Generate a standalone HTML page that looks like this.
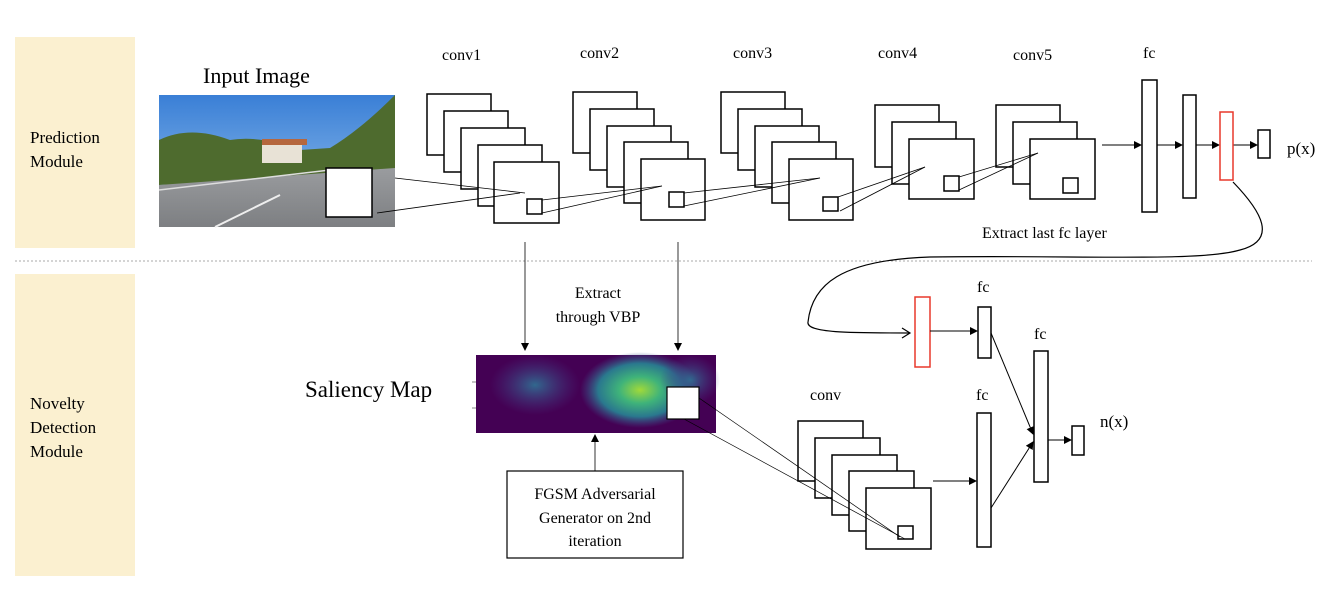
<!DOCTYPE html>
<html><head><meta charset="utf-8"><style>
html,body{margin:0;padding:0;background:#fff;}
svg{display:block;font-family:"Liberation Serif",serif;}
</style></head><body>
<svg width="1340" height="600" viewBox="0 0 1340 600" xmlns="http://www.w3.org/2000/svg">
<defs>
<marker id="ah" markerWidth="8" markerHeight="8" refX="7" refY="4" orient="auto" markerUnits="userSpaceOnUse">
<path d="M0,0 L8,4 L0,8 Z" fill="#000"/></marker>
<linearGradient id="sky" x1="0" y1="0" x2="0" y2="1">
<stop offset="0" stop-color="#3a7fd6"/><stop offset="1" stop-color="#9cc6ee"/></linearGradient>
<linearGradient id="road" x1="0" y1="0" x2="0" y2="1">
<stop offset="0" stop-color="#9a9c9f"/><stop offset="1" stop-color="#7d7f82"/></linearGradient>
<radialGradient id="s1" cx="0.5" cy="0.5" r="0.5">
<stop offset="0" stop-color="#a0d93a"/><stop offset="0.35" stop-color="#3fb37a"/><stop offset="0.7" stop-color="#2a788e"/><stop offset="1" stop-color="#3b528b" stop-opacity="0"/></radialGradient>
<radialGradient id="s2" cx="0.5" cy="0.5" r="0.5">
<stop offset="0" stop-color="#31688e"/><stop offset="1" stop-color="#443983" stop-opacity="0"/></radialGradient>
</defs>

<rect x="15" y="37" width="120" height="211" fill="#fbf0d0"/>
<rect x="15" y="274" width="120" height="302" fill="#fbf0d0"/>
<text x="30" y="143" font-size="17">Prediction</text>
<text x="30" y="167" font-size="17">Module</text>
<text x="30" y="409" font-size="17">Novelty</text>
<text x="30" y="433" font-size="17">Detection</text>
<text x="30" y="457" font-size="17">Module</text>

<line x1="15" y1="261" x2="1312" y2="261" stroke="#aaa" stroke-width="1" stroke-dasharray="2,2"/>

<text x="203" y="83" font-size="22">Input Image</text>
<g>
<rect x="159" y="95" width="236" height="132" fill="url(#sky)"/>
<path d="M159,140 Q190,125 230,140 Q260,135 300,150 L330,148 Q360,130 395,95 L395,175 L159,185 Z" fill="#4e6b2e"/>
<rect x="262" y="143" width="40" height="20" fill="#e8e2d6"/>
<rect x="262" y="139" width="45" height="6" fill="#b5673e"/>
<path d="M159,185 L395,168 L395,227 L159,227 Z" fill="url(#road)"/>
<path d="M159,190 L330,170" stroke="#ddd" stroke-width="1.5"/>
<path d="M215,227 L280,195" stroke="#eee" stroke-width="2"/>
<rect x="326" y="168" width="46" height="49" fill="#fff" stroke="#000" stroke-width="1.5"/>
</g>

<g fill="#fff" stroke="#000" stroke-width="1.5">
<rect x="427" y="94" width="64" height="61"/><rect x="444" y="111" width="64" height="61"/><rect x="461" y="128" width="64" height="61"/><rect x="478" y="145" width="64" height="61"/><rect x="494" y="162" width="65" height="61"/>
<rect x="527" y="199" width="15" height="15"/>
<rect x="573" y="92" width="64" height="61"/><rect x="590" y="109" width="64" height="61"/><rect x="607" y="126" width="64" height="61"/><rect x="624" y="142" width="64" height="61"/><rect x="641" y="159" width="64" height="61"/>
<rect x="669" y="192" width="15" height="15"/>
<rect x="721" y="92" width="64" height="61"/><rect x="738" y="109" width="64" height="61"/><rect x="755" y="126" width="64" height="61"/><rect x="772" y="142" width="64" height="61"/><rect x="789" y="159" width="64" height="61"/>
<rect x="823" y="197" width="15" height="14"/>
<rect x="875" y="105" width="64" height="62"/><rect x="892" y="122" width="64" height="62"/><rect x="909" y="139" width="65" height="60"/>
<rect x="944" y="176" width="15" height="15"/>
<rect x="996" y="105" width="64" height="62"/><rect x="1013" y="122" width="64" height="62"/><rect x="1030" y="139" width="65" height="60"/>
<rect x="1063" y="178" width="15" height="15"/>
</g>
<g stroke="#000" stroke-width="0.8" fill="none">
<line x1="395" y1="178" x2="525" y2="193"/>
<line x1="377" y1="213" x2="520" y2="193"/>
<line x1="542" y1="200" x2="662" y2="186"/><line x1="542" y1="213" x2="662" y2="186"/>
<line x1="684" y1="193" x2="820" y2="178"/><line x1="684" y1="206" x2="820" y2="178"/>
<line x1="838" y1="197" x2="925" y2="167"/><line x1="840" y1="211" x2="925" y2="167"/>
<line x1="959" y1="177" x2="1038" y2="153"/><line x1="959" y1="190" x2="1038" y2="153"/>
</g>
<g font-size="16">
<text x="442" y="60">conv1</text><text x="580" y="58">conv2</text><text x="733" y="58">conv3</text><text x="878" y="58">conv4</text><text x="1013" y="60">conv5</text><text x="1143" y="58">fc</text>
</g>

<g stroke="#000" stroke-width="1" fill="none">
<line x1="1102" y1="145" x2="1141" y2="145" marker-end="url(#ah)"/>
<line x1="1157" y1="145" x2="1182" y2="145" marker-end="url(#ah)"/>
<line x1="1196" y1="145" x2="1219" y2="145" marker-end="url(#ah)"/>
<line x1="1233" y1="145" x2="1257" y2="145" marker-end="url(#ah)"/>
</g>
<rect x="1142" y="80" width="15" height="132" fill="#fff" stroke="#000" stroke-width="1.5"/>
<rect x="1183" y="95" width="13" height="103" fill="#fff" stroke="#000" stroke-width="1.5"/>
<rect x="1220" y="112" width="13" height="68" fill="#fff" stroke="#e8382c" stroke-width="1.5"/>
<rect x="1258" y="130" width="12" height="28" fill="#fff" stroke="#000" stroke-width="1.5"/>
<text x="1287" y="154" font-size="17">p(x)</text>

<path d="M1233,182 C1262,212 1278,240 1240,250 C1200,262 1080,255 930,257 C840,260 812,285 808,322 C806,333 850,333 909,333" fill="none" stroke="#000" stroke-width="1.2"/>
<path d="M902,328 L910,333 L902,338" fill="none" stroke="#000" stroke-width="1.2"/>
<text x="982" y="238" font-size="16">Extract last fc layer</text>

<g stroke="#000" stroke-width="0.8">
<line x1="525" y1="242" x2="525" y2="350" marker-end="url(#ah)"/>
<line x1="678" y1="242" x2="678" y2="350" marker-end="url(#ah)"/>
<line x1="595" y1="471" x2="595" y2="435" marker-end="url(#ah)"/>
</g>
<text x="598" y="298" font-size="16" text-anchor="middle">Extract</text>
<text x="598" y="322" font-size="16" text-anchor="middle">through VBP</text>

<text x="305" y="397" font-size="23">Saliency Map</text>
<rect x="476" y="355" width="240" height="78" fill="#440154"/>
<ellipse cx="535" cy="385" rx="45" ry="30" fill="url(#s2)"/>
<ellipse cx="640" cy="390" rx="60" ry="38" fill="url(#s1)"/>
<ellipse cx="690" cy="380" rx="30" ry="25" fill="url(#s2)"/>
<rect x="667" y="387" width="32" height="32" fill="#fff" stroke="#000" stroke-width="1.2"/>
<g stroke="#888" stroke-width="1"><line x1="472" y1="382" x2="476" y2="382"/><line x1="472" y1="408" x2="476" y2="408"/></g>

<rect x="507" y="471" width="176" height="87" fill="#fff" stroke="#000" stroke-width="1.2"/>
<text x="595" y="499" font-size="16" text-anchor="middle">FGSM Adversarial</text>
<text x="595" y="523" font-size="16" text-anchor="middle">Generator on 2nd</text>
<text x="595" y="546" font-size="16" text-anchor="middle">iteration</text>

<text x="810" y="400" font-size="16">conv</text>
<g fill="#fff" stroke="#000" stroke-width="1.5">
<rect x="798" y="421" width="65" height="60"/><rect x="815" y="438" width="65" height="60"/><rect x="832" y="455" width="65" height="60"/><rect x="849" y="471" width="65" height="60"/><rect x="866" y="488" width="65" height="61"/>
<rect x="898" y="526" width="15" height="13"/>
</g>
<g stroke="#000" stroke-width="0.7" fill="none">
<line x1="699" y1="398" x2="900" y2="537"/>
<line x1="684" y1="419" x2="905" y2="539"/>
</g>

<rect x="915" y="297" width="15" height="70" fill="#fff" stroke="#e8382c" stroke-width="1.5"/>
<g stroke="#000" stroke-width="1" fill="none">
<line x1="930" y1="331" x2="977" y2="331" marker-end="url(#ah)"/>
<line x1="933" y1="481" x2="976" y2="481" marker-end="url(#ah)"/>
<line x1="991" y1="333" x2="1033" y2="434" marker-end="url(#ah)"/>
<line x1="991" y1="508" x2="1033" y2="442" marker-end="url(#ah)"/>
<line x1="1048" y1="440" x2="1071" y2="440" marker-end="url(#ah)"/>
</g>
<rect x="978" y="307" width="13" height="51" fill="#fff" stroke="#000" stroke-width="1.5"/>
<rect x="1034" y="351" width="14" height="131" fill="#fff" stroke="#000" stroke-width="1.5"/>
<rect x="977" y="413" width="14" height="134" fill="#fff" stroke="#000" stroke-width="1.5"/>
<rect x="1072" y="426" width="12" height="29" fill="#fff" stroke="#000" stroke-width="1.5"/>
<g font-size="16"><text x="977" y="292">fc</text><text x="1034" y="339">fc</text><text x="976" y="400">fc</text></g>
<text x="1100" y="427" font-size="17">n(x)</text>
</svg>
</body></html>
